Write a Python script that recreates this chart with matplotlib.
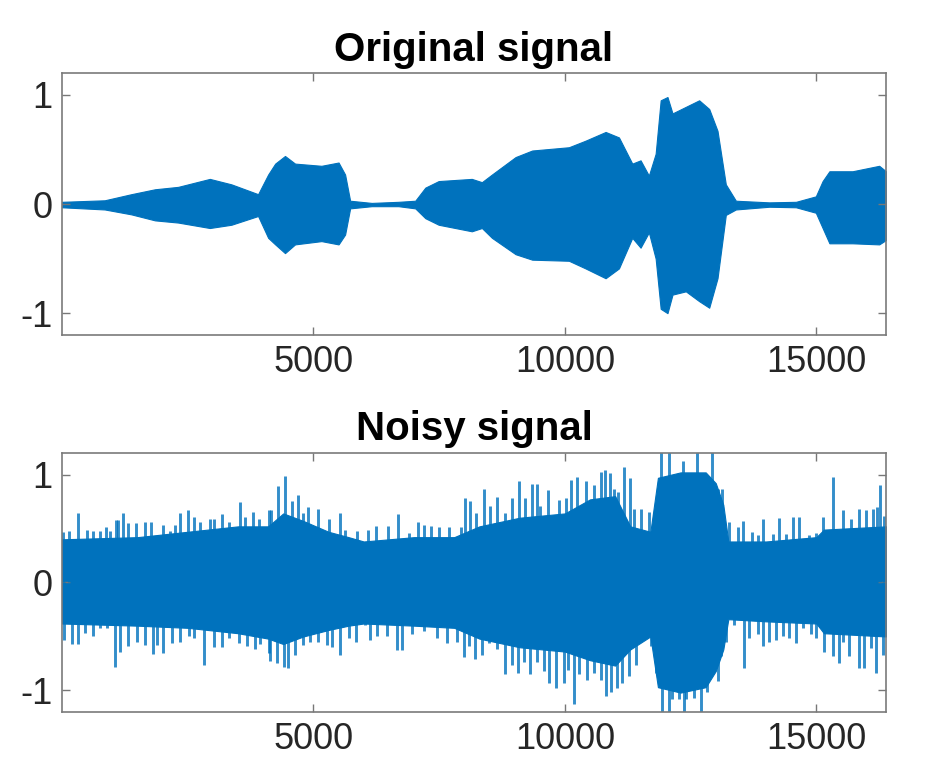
import matplotlib
matplotlib.use('Agg')
import matplotlib.pyplot as plt

# envelope of the original signal (sample index, upper, lower)
orig_x = [1, 850, 1380, 1850, 2310, 2940, 3370, 3900, 4100, 4240, 4435, 4635, 5160, 5500, 5630,
          5730, 6160, 6690, 7025, 7225, 7490, 8150, 8350, 8550, 9020, 9350, 10080, 10410, 10810,
          11075, 11340, 11505, 11670, 11805, 11905, 12040, 12140, 12405, 12670, 12870, 13035,
          13200, 13400, 14065, 14595, 14990, 15125, 15260, 15720, 16250, 16384]
orig_up = [0.02, 0.034, 0.09, 0.135, 0.157, 0.23, 0.18, 0.09, 0.27, 0.37, 0.44, 0.37, 0.35, 0.38, 0.27,
           0.03, 0.01, 0.02, 0.03, 0.15, 0.21, 0.23, 0.20, 0.27, 0.43, 0.49, 0.52, 0.58, 0.66,
           0.61, 0.37, 0.40, 0.26, 0.46, 0.95, 0.98, 0.83, 0.89, 0.95, 0.87, 0.67,
           0.18, 0.03, 0.015, 0.02, 0.07, 0.21, 0.30, 0.30, 0.35, 0.30]
orig_lo = [-0.03, -0.05, -0.095, -0.15, -0.17, -0.22, -0.19, -0.11, -0.31, -0.37, -0.45, -0.37, -0.34, -0.37, -0.28,
           -0.04, -0.02, -0.02, -0.04, -0.13, -0.19, -0.25, -0.22, -0.31, -0.46, -0.51, -0.52, -0.59, -0.68,
           -0.59, -0.31, -0.40, -0.26, -0.50, -0.96, -1.0, -0.83, -0.80, -0.89, -0.95, -0.68,
           -0.10, -0.05, -0.025, -0.03, -0.08, -0.22, -0.36, -0.36, -0.37, -0.33]

# solid core of the noisy signal
noisy_x = [1, 1500, 2500, 3500, 4100, 4400, 4800, 5300, 5700, 6000, 7000, 7800, 8300, 9100, 10000,
           10500, 11000, 11300, 11700, 11850, 12300, 12800, 13000, 13150, 13250, 14000, 15000, 15150, 16384]
noisy_up = [0.40, 0.42, 0.47, 0.52, 0.52, 0.64, 0.57, 0.47, 0.42, 0.38, 0.42, 0.42, 0.52, 0.60, 0.64,
            0.77, 0.80, 0.52, 0.47, 0.97, 1.02, 1.02, 0.92, 0.72, 0.38, 0.38, 0.42, 0.49, 0.52]
noisy_lo = [-0.38, -0.40, -0.42, -0.47, -0.52, -0.57, -0.50, -0.44, -0.40, -0.38, -0.40, -0.42, -0.52, -0.60, -0.64,
            -0.72, -0.77, -0.62, -0.50, -0.97, -1.02, -0.97, -0.82, -0.62, -0.34, -0.36, -0.38, -0.47, -0.50]

# peaks sticking out of the noisy signal (upper side)
up_spike_x = [27, 146, 319, 505, 624, 757, 870, 956, 1076, 1115, 1208, 1321, 1474, 1653, 1775, 1819,
              2005, 2151, 2251, 2350, 2516, 2616, 2749, 2935, 3028, 3181, 3313, 3546, 3645, 3798, 3918,
              4110, 4157, 4303, 4436, 4569, 4688, 4801, 4901, 5087, 5312, 5532, 5631, 5864, 6083, 6249,
              6481, 6680, 6893, 7079, 7192, 7344, 7504, 7690, 7822, 7942, 8008, 8121, 8234, 8387, 8506,
              8652, 8805, 8951, 9084, 9217, 9349, 9449, 9515, 9668, 9881, 10027, 10113, 10246, 10412,
              10578, 10710, 10797, 10890, 10976, 11063, 11175, 11288, 11374, 11507, 11673, 11773,
              11905, 12070, 12340, 12636, 12935, 13054, 13134, 13254, 13433, 13546, 13719, 13831, 13944,
              14130, 14250, 14396, 14529, 14662, 14847, 14993, 15140, 15339, 15525, 15691, 15857, 15989,
              16136, 16202, 16268, 16355]
up_spike_y = [0.47, 0.48, 0.64, 0.49, 0.48, 0.48, 0.51, 0.48, 0.58, 0.58, 0.64, 0.55, 0.55, 0.56, 0.56, 0.41,
              0.53, 0.48, 0.53, 0.64, 0.67, 0.61, 0.56, 0.59, 0.59, 0.63, 0.56, 0.75, 0.61, 0.65, 0.59,
              0.67, 0.67, 0.89, 0.99, 0.755, 0.81, 0.64, 0.70, 0.68, 0.59, 0.64, 0.49, 0.48, 0.49, 0.52,
              0.52, 0.63, 0.46, 0.56, 0.53, 0.52, 0.51, 0.51, 0.42, 0.51, 0.78, 0.755, 0.64, 0.87, 0.71,
              0.79, 0.64, 0.78, 0.94, 0.78, 0.91, 0.91, 0.71, 0.86, 0.76, 0.78, 0.95, 0.98, 0.94,
              0.90, 1.02, 1.04, 1.01, 0.87, 0.84, 1.07, 0.97, 0.68, 0.68, 0.65, 0.63,
              1.3, 1.3, 1.13, 1.3, 1.3, 0.87, 0.87, 0.56, 0.51, 0.57, 0.47, 0.44, 0.585,
              0.45, 0.60, 0.45, 0.61, 0.61, 0.44, 0.46, 0.61, 0.98, 0.67, 0.59, 0.68, 0.67,
              0.68, 0.70, 0.90, 0.62]

# peaks on the lower side
lo_spike_x = [40, 192, 325, 458, 624, 757, 890, 1056, 1155, 1321, 1487, 1653, 1806, 1886, 2019, 2185,
              2351, 2517, 2616, 2829, 3014, 3181, 3313, 3513, 3679, 3845, 3944, 4110, 4137, 4270, 4423,
              4502, 4635, 4801, 4934, 5100, 5266, 5366, 5532, 5698, 5844, 6030, 6129, 6262, 6461, 6660,
              6760, 6959, 7192, 7457, 7657, 7856, 7988, 8088, 8221, 8353, 8486, 8652, 8818, 8951, 9071,
              9183, 9316, 9449, 9582, 9681, 9814, 9980, 10067, 10180, 10279, 10445, 10578, 10711, 10810,
              10910, 11043, 11142, 11275, 11408, 11574, 11707, 11806, 11940, 12080, 12138, 12271, 12371,
              12404, 12570, 12703, 12835, 12935, 13035, 13101, 13201, 13367, 13566, 13665, 13831, 13931,
              14050, 14197, 14330, 14462, 14595, 14741, 14894, 14993, 15160, 15326, 15445, 15525, 15658,
              15857, 15956, 16089, 16189, 16322]
lo_spike_y = [-0.53, -0.57, -0.57, -0.47, -0.50, -0.42, -0.42, -0.78, -0.64, -0.59, -0.55, -0.58, -0.66, -0.58, -0.65, -0.56,
              -0.55, -0.50, -0.51, -0.76, -0.60, -0.60, -0.51, -0.56, -0.59, -0.62, -0.57, -0.65, -0.73, -0.745, -0.78,
              -0.79, -0.67, -0.58, -0.55, -0.55, -0.58, -0.60, -0.67, -0.51, -0.55, -0.39, -0.53, -0.50, -0.50, -0.63,
              -0.63, -0.48, -0.45, -0.51, -0.56, -0.55, -0.69, -0.59, -0.71, -0.67, -0.56, -0.62, -0.85, -0.76, -0.84,
              -0.74, -0.85, -0.74, -0.82, -0.93, -0.98, -0.93, -0.81, -1.13, -0.85, -0.90, -0.84, -0.90, -1.05,
              -1.01, -0.98, -0.93, -0.87, -0.76, -0.50, -0.59, -0.84, -1.3, -1.3, -1.08, -1.08, -1.3,
              -1.08, -1.07, -1.3, -1.01, -0.78, -0.91, -0.68, -0.55, -0.39, -0.79, -0.51, -0.48, -0.59,
              -0.55, -0.53, -0.50, -0.51, -0.56, -0.42, -0.48, -0.51, -0.64, -0.68, -0.75, -0.55, -0.68,
              -0.79, -0.79, -0.61, -0.84, -0.67]

xticks = [5000, 10000, 15000]
yticks = [-1, 0, 1]
blue = '#0072BD'

plt.rcParams['font.family'] = ['Liberation Sans', 'DejaVu Sans']

fig = plt.figure(figsize=(9.31, 7.71), dpi=100)
ax1 = fig.add_axes([0.0666, 0.5655, 0.885, 0.3398])
ax2 = fig.add_axes([0.0666, 0.0765, 0.885, 0.336])

ax1.fill_between(orig_x, orig_lo, orig_up, color=blue, linewidth=0.8, edgecolor=blue)
ax1.set_title('Original signal', fontsize=29, fontweight='bold', pad=9)

ax2.fill_between(noisy_x, noisy_lo, noisy_up, color=blue, linewidth=0.8, edgecolor=blue)
ax2.vlines(up_spike_x, 0, up_spike_y, color=blue, linewidth=2.1, alpha=0.8)
ax2.vlines(lo_spike_x, 0, lo_spike_y, color=blue, linewidth=2.1, alpha=0.8)
ax2.set_title('Noisy signal', fontsize=29, fontweight='bold', pad=9)

for ax in [ax1, ax2]:
    ax.set_xlim(1, 16384)
    ax.set_ylim(-1.2, 1.2)
    ax.set_xticks(xticks)
    ax.set_yticks(yticks)
    ax.set_yticklabels(['-1', '0', '1'])
    ax.tick_params(direction='in', length=6, width=1, top=True, right=True,
                   labelsize=26, colors='#777777', labelcolor='#262626', pad=7)
    for s in ax.spines.values():
        s.set_color('#7a7a7a')
        s.set_linewidth(1.2)

fig.savefig('out.png', dpi=100)
